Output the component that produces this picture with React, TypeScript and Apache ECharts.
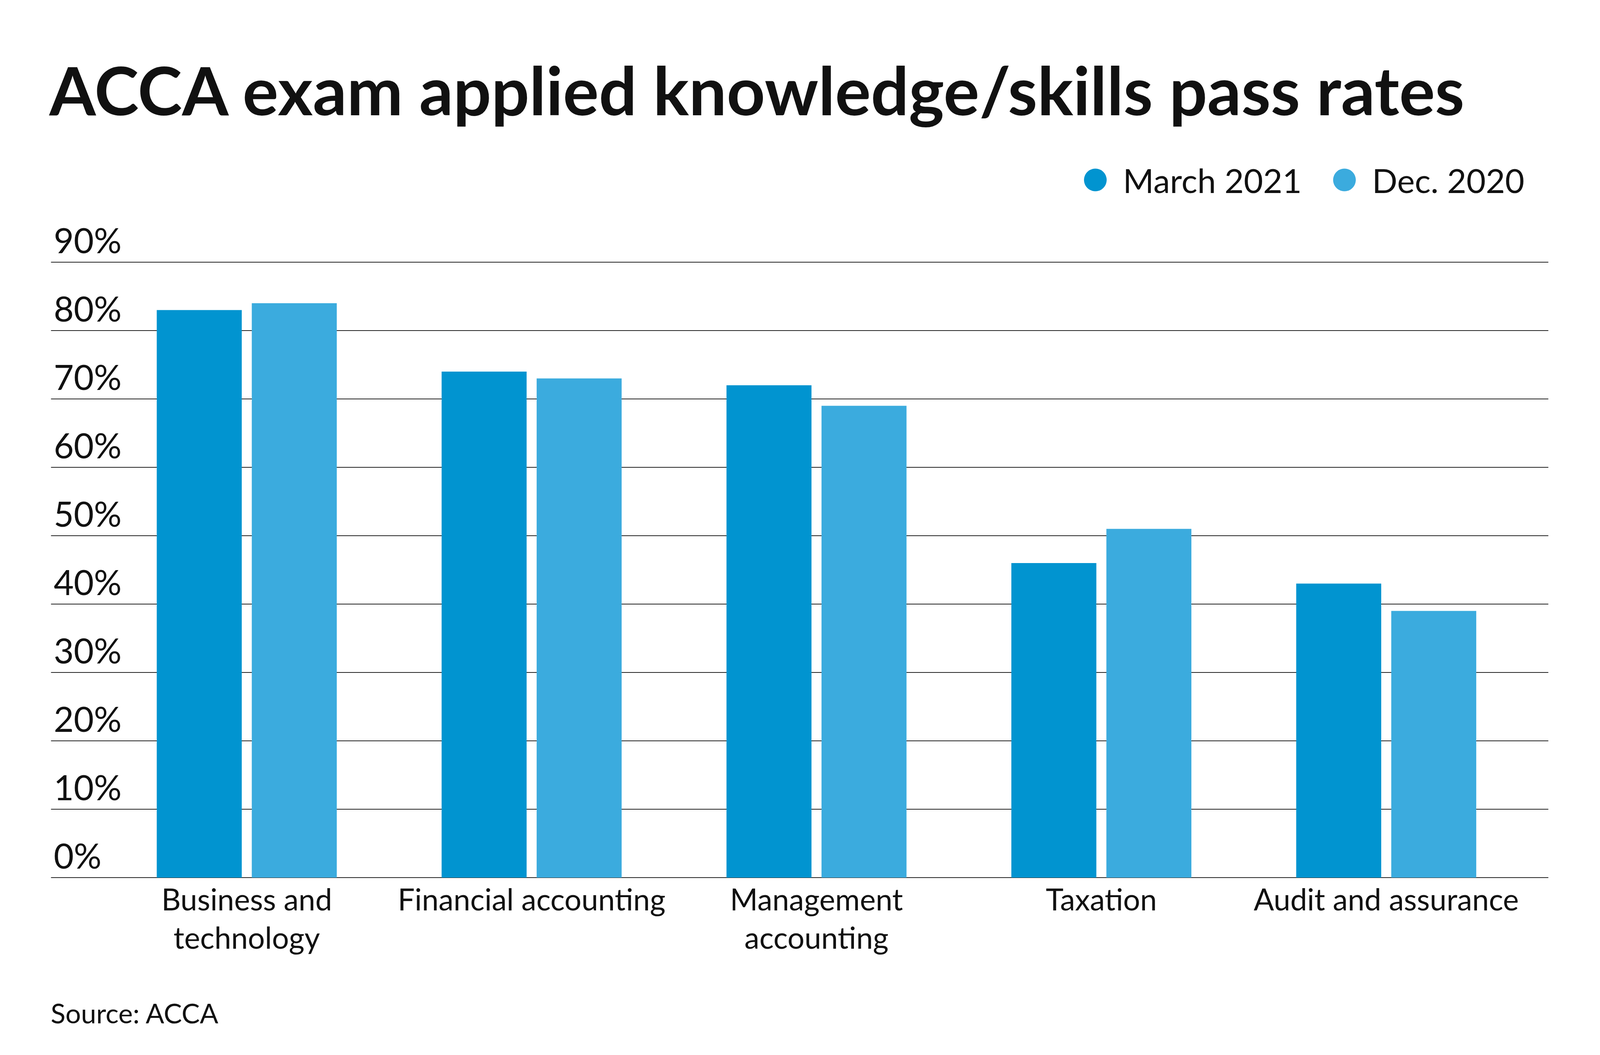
import React, { useEffect, useRef } from "react";
import * as echarts from "echarts";

const categories = [
  "Business and\ntechnology",
  "Financial accounting",
  "Management\naccounting",
  "Taxation",
  "Audit and assurance",
];
const seriesNames = ["March 2021", "Dec. 2020"];
const march2021 = [83, 74, 72, 46, 43];
const dec2020 = [84, 73, 69, 51, 39];
const yTicks = [0, 10, 20, 30, 40, 50, 60, 70, 80, 90];
const colors = ["#0194D0", "#3BABDE"];
const FONT = "Lato";

export default function App() {
  const ref = useRef<HTMLDivElement>(null);
  const W = window.innerWidth;
  const H = window.innerHeight;
  useEffect(() => {
    if (!ref.current) return;
    const sx = W / 4800;
    const sy = H / 2700;
    const s = Math.min(sx, sy);
    const X = (v: number) => v * sx;
    const Y = (v: number) => v * sy;
    const F = (v: number) => v * s;
    const chart = echarts.init(ref.current, null, { renderer: "svg" });
    const top = Y(671);
    const bottom = H - Y(2246);
    const titleSize = F(201);
    chart.setOption({
      animation: false,
      backgroundColor: "#ffffff",
      textStyle: { fontFamily: FONT, color: "#111" },
      title: {
        text: "ACCA exam applied knowledge/skills pass rates",
        left: X(148),
        top: Y(297) - 0.896 * titleSize,
        padding: 0,
        textStyle: { fontFamily: FONT, fontSize: titleSize, fontWeight: "bold", color: "#111" },
      },
      legend: {
        data: seriesNames,
        icon: "circle",
        itemWidth: F(68),
        itemHeight: F(68),
        itemGap: X(94),
        left: X(3252),
        top: Y(418),
        padding: 0,
        textStyle: { fontFamily: FONT, fontSize: F(100), color: "#111", padding: [0, 0, 0, X(43)] },
      },
      grid: [
        { left: X(153), right: W - X(4645), top, bottom, containLabel: false },
        { left: X(313), right: W - X(4586), top, bottom, containLabel: false },
      ],
      xAxis: [
        { type: "value", gridIndex: 0, show: false, min: 0, max: 1 },
        {
          type: "category",
          gridIndex: 1,
          data: categories,
          axisLine: { show: false },
          axisTick: { show: false },
          axisLabel: {
            fontFamily: FONT,
            fontSize: F(90),
            lineHeight: Y(98),
            color: "#111",
            margin: Y(5),
            interval: 0,
          },
        },
      ],
      yAxis: [
        {
          type: "value",
          gridIndex: 0,
          min: yTicks[0],
          max: yTicks[yTicks.length - 1],
          interval: 10,
          axisLine: { show: false },
          axisTick: { show: false },
          splitLine: { show: true, lineStyle: { color: "#222", width: F(2.6) } },
          axisLabel: {
            inside: true,
            margin: X(8),
            fontFamily: FONT,
            fontSize: F(104),
            lineHeight: F(104),
            color: "#111",
            verticalAlign: "bottom",
            padding: [0, 0, Y(13), 0],
            formatter: "{value}%",
          },
        },
        {
          type: "value",
          gridIndex: 1,
          min: yTicks[0],
          max: yTicks[yTicks.length - 1],
          interval: 10,
          show: false,
          splitLine: { show: false },
        },
      ],
      series: [
        {
          name: seriesNames[0],
          type: "bar",
          xAxisIndex: 1,
          yAxisIndex: 1,
          data: march2021,
          barWidth: X(255),
          barGap: "11.8%",
          itemStyle: { color: colors[0] },
          z: 3,
        },
        {
          name: seriesNames[1],
          type: "bar",
          xAxisIndex: 1,
          yAxisIndex: 1,
          data: dec2020,
          barWidth: X(255),
          barGap: "11.8%",
          itemStyle: { color: colors[1] },
          z: 3,
        },
      ],
      graphic: [
        {
          type: "text",
          left: X(152),
          top: Y(2620) - 0.896 * F(82),
          style: { text: "Source: ACCA", fontFamily: FONT, fontSize: F(82), fill: "#111" },
        },
      ],
    });
    return () => chart.dispose();
  }, []);
  return (
    <div
      ref={ref}
      style={{ position: "absolute", left: 0, top: 0, width: W, height: H, overflow: "hidden" }}
    />
  );
}
